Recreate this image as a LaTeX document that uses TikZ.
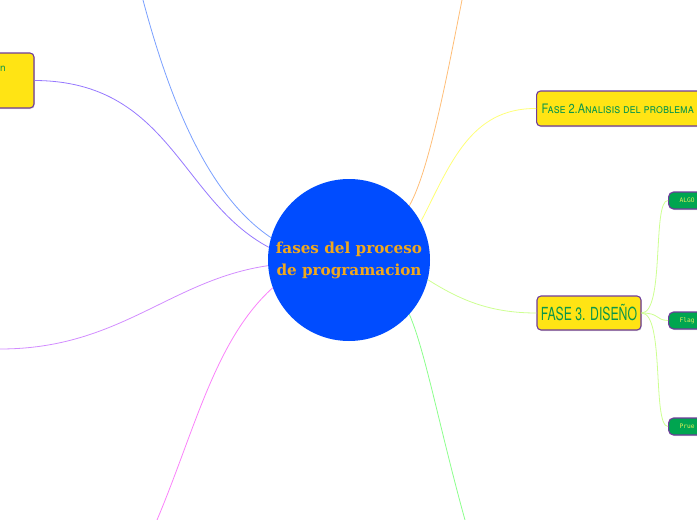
\documentclass[tikz,border=0pt]{standalone}
\usepackage{fontspec}
\newfontfamily\hubfont{DejaVu Serif}
\newfontfamily\handfont{TeX Gyre Heros}
\newfontfamily\pixfont{DejaVu Sans Mono}
\usetikzlibrary{shadows}
\definecolor{hub}{RGB}{0,76,255}
\definecolor{hubtext}{RGB}{240,168,30}
\definecolor{boxfill}{RGB}{255,228,20}
\definecolor{boxline}{RGB}{110,60,155}
\definecolor{boxtext}{RGB}{10,150,75}
\definecolor{subfill}{RGB}{0,165,80}
\definecolor{subtext}{RGB}{225,240,90}
\definecolor{eblue}{RGB}{122,160,255}
\definecolor{epurple}{RGB}{150,120,255}
\definecolor{eviolet}{RGB}{210,140,255}
\definecolor{epink}{RGB}{250,130,250}
\definecolor{eorange}{RGB}{255,190,120}
\definecolor{eyellow}{RGB}{255,255,120}
\definecolor{elime}{RGB}{205,255,145}
\definecolor{egreen}{RGB}{140,255,140}
\tikzset{
  edge/.style={line width=0.8pt},
  phase/.style={draw=boxline, fill=boxfill, line width=1.1pt, rounded corners=4pt,
    drop shadow={shadow xshift=0.8pt, shadow yshift=-1pt, opacity=0.25},
    text=boxtext, inner sep=0pt},
  subbox/.style={draw=boxline, fill=subfill, line width=1.1pt, rounded corners=5pt,
    drop shadow={shadow xshift=0.8pt, shadow yshift=-1pt, opacity=0.25},
    text=subtext, font=\pixfont\fontsize{6.2}{7}\selectfont, minimum height=17pt,
    text width=30pt, align=left, inner xsep=11pt, inner ysep=0pt, anchor=west},
}
\begin{document}
\begin{tikzpicture}[x=1pt,y=-1pt]
\useasboundingbox (0,0) rectangle (697,520);
\clip (0,0) rectangle (697,520);

% off-canvas ends
\coordinate (tblue) at (143,0);
\coordinate (lviol) at (0,349);
\coordinate (bpink) at (157,520);
\coordinate (torng) at (462,0);
\coordinate (bgrn) at (465,520);

% hub
\node[circle, fill=hub, minimum size=162pt, inner sep=0pt, text=hubtext,
  font=\hubfont\bfseries\fontsize{15.2}{22}\selectfont, align=center] (hub) at (349,260)
  {fases del proceso\\de programacion};

% phase boxes
\node[phase, minimum width=80pt, minimum height=55pt] (p1) at (-6,80.5) {};
\node[text=boxtext, font=\handfont\fontsize{10}{10}\selectfont, inner sep=0pt] (p1t) at (3,69) {n};
\node[phase, anchor=west, minimum height=35pt, inner xsep=5pt, text width=170pt, align=left] (p2) at (536,108.5)
  {\handfont\fontsize{13}{13}\selectfont\scalebox{0.85}[1]{\textsc{Fase 2.Analisis del problema}}};
\node[phase, minimum width=104pt, minimum height=34pt] (p3) at (589,313)
  {\handfont\fontsize{18}{18}\selectfont\scalebox{0.68}[1]{FASE 3. DISEÑO}};

% sub boxes
\node[subbox] (s1) at (668,200.5) {ALGO};
\node[subbox] (s2) at (668,320.5) {Flag};
\node[subbox] (s3) at (668,426.5) {Prue};

% connectors
\draw[edge, eblue] (tblue) .. controls (175,120) and (215,200) .. (hub.164);
\draw[edge, epurple] (p1.east) .. controls (170,81) and (180,200) .. (hub.171);
\draw[edge, eviolet] (lviol) .. controls (120,349) and (170,280) .. (hub.184);
\draw[edge, epink] (bpink) .. controls (195,430) and (215,340) .. (hub.200);
\draw[edge, eorange] (hub.42) .. controls (430,170) and (450,60) .. (torng);
\draw[edge, eyellow] (hub.28) .. controls (450,165) and (470,108) .. (p2.west);
\draw[edge, elime] (hub.-14) .. controls (460,300) and (490,313) .. (p3.west);
\draw[edge, egreen] (hub.-42) .. controls (425,350) and (440,430) .. (bgrn);
\draw[edge, elime] (p3.east) .. controls (665,313) and (652,200) .. (s1.west);
\draw[edge, elime] (p3.east) .. controls (660,313) and (655,320) .. (s2.west);
\draw[edge, elime] (p3.east) .. controls (665,313) and (652,426) .. (s3.west);
\end{tikzpicture}
\end{document}
